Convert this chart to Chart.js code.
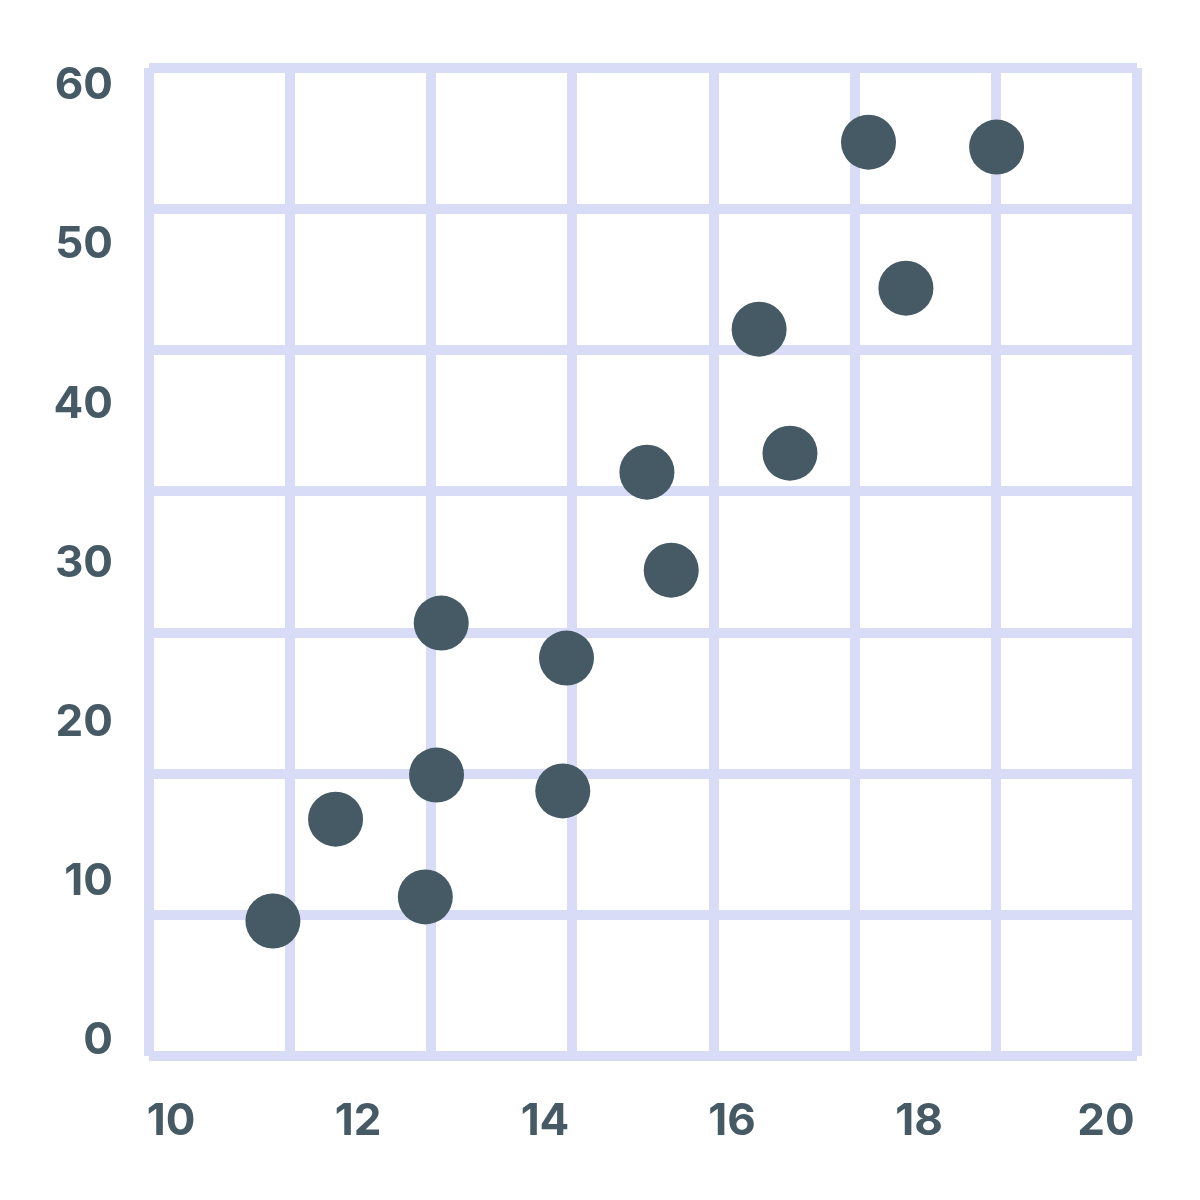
<!DOCTYPE html>
<html lang="en">

<head>
    <meta charset="UTF-8">
    <script src="https://cdn.jsdelivr.net/npm/chart.js@4/dist/chart.umd.min.js"></script>
    <title>Scatter</title>
    <style>
        body { margin: 0; background: #ffffff; }
        #wrap { width: 1200px; height: 1200px; }
    </style>
</head>

<body>
    <div id="wrap"><canvas id="grafico1"></canvas></div>
</body>

<script>
    // valori
    var xValues = [11.09, 11.76, 12.72, 12.84, 12.89, 14.19, 14.23, 15.09, 15.35, 16.29, 16.62, 17.46, 17.86, 18.83];
    var yValues = [7.54, 13.94, 9.05, 16.71, 26.26, 15.71, 24.06, 35.74, 29.58, 44.72, 36.93, 56.47, 47.30, 56.16];

    var xTicks = [10, 12, 14, 16, 18, 20];
    var yTicks = [0, 10, 20, 30, 40, 50, 60];

    // la griglia ha 7 celle per lato, non allineata alle etichette
    var gridCells = 7;

    var punti = xValues.map(function(x, i) {
        return { x: x, y: yValues[i] };
    });

    var testo = '#455a64';
    var griglia = '#d9dcf7';

    var data = {
        datasets: [
        {
            label: 'punti',
            data: punti,
            backgroundColor: '#455a64',
            borderWidth: 0,
            pointRadius: 27.5,
            pointHoverRadius: 27.5
        }
        ]
    };

    var font = { family: 'Inter', size: 44, weight: 'bold' };

    var options = {
        responsive: true,
        maintainAspectRatio: false,
        animation: false,
        layout: {
            padding: { top: 68, right: 63, left: 0, bottom: 0 }
        },
        plugins: {
            legend: { display: false },
            tooltip: { enabled: false }
        },
        scales: {
            x: {
                type: 'linear',
                position: 'bottom',
                min: 9.7647,
                max: 20.3316,
                grid: { display: false, drawTicks: false },
                border: { display: false },
                afterBuildTicks: function(scale) {
                    scale.ticks = xTicks.map(function(v) { return { value: v }; });
                },
                afterFit: function(scale) { scale.height = 144; },
                ticks: { color: testo, font: font, padding: 39, maxRotation: 0, autoSkip: false }
            },
            y: {
                type: 'linear',
                position: 'left',
                min: -0.942,
                max: 61.131,
                grid: { display: false, drawTicks: false },
                border: { display: false },
                afterBuildTicks: function(scale) {
                    scale.ticks = yTicks.map(function(v) { return { value: v }; });
                },
                afterFit: function(scale) { scale.width = 149; },
                ticks: { color: testo, font: font, padding: 36, autoSkip: false }
            },
            gx: {
                type: 'linear',
                position: 'top',
                min: 0,
                max: gridCells,
                grid: { color: griglia, lineWidth: 10, drawTicks: false },
                border: { display: false },
                ticks: { display: false, stepSize: 1 },
                afterFit: function(scale) { scale.height = 0; }
            },
            gy: {
                type: 'linear',
                position: 'right',
                min: 0,
                max: gridCells,
                grid: { color: griglia, lineWidth: 10, drawTicks: false },
                border: { display: false },
                ticks: { display: false, stepSize: 1 },
                afterFit: function(scale) { scale.width = 0; }
            }
        }
    };

    var config = {
        type: 'scatter',
        data,
        options
    };

    var myChart = new Chart('grafico1', config);
</script>

</html>
